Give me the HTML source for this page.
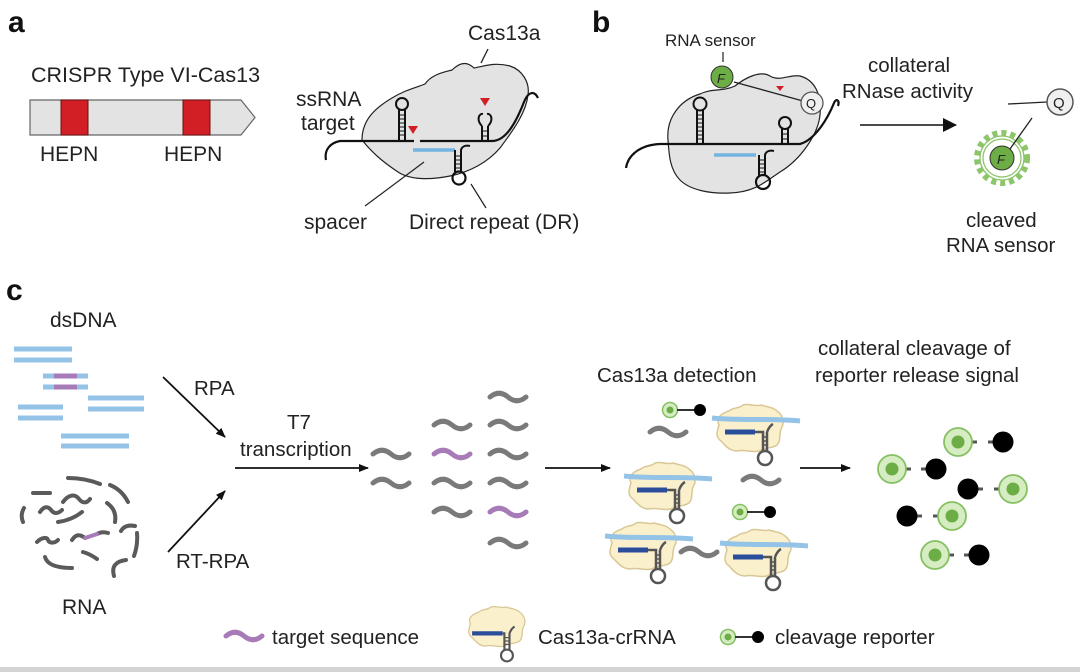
<!DOCTYPE html>
<html><head><meta charset="utf-8"><style>
html,body{margin:0;padding:0;background:#fff;}
svg{display:block;}
text{font-family:"Liberation Sans",Arial,sans-serif;fill:#222;}
</style></head><body>
<svg width="1080" height="672" viewBox="0 0 1080 672" xmlns="http://www.w3.org/2000/svg">
<defs>
<path id="sq" d="M0,0 c6,-5 12,-5 18,0 s12,5 18,0" fill="none" stroke-width="5" stroke-linecap="round"/>
<g id="cx">
  <path d="M4,20 C0,12 8,8 14,6 C18,2 24,4 28,0 C34,-2 40,2 46,0 C52,2 58,2 62,6 C68,10 70,18 66,24 C64,30 66,36 62,40 C56,44 50,42 44,46 C36,48 30,44 22,46 C14,46 10,40 6,36 C0,32 2,26 4,20 Z" fill="#faf0cc" stroke="#d9c796" stroke-width="1.5"/>
  <path d="M-3,13 C25,16 55,13 85,16" fill="none" stroke="#94c3e8" stroke-width="5"/>
  <line x1="10" y1="27" x2="40" y2="27" stroke="#2b4e9c" stroke-width="5"/>
  <path d="M40,27 H48 V46 M52,27 V46 M52,27 C54,22 56,20 58,19" fill="none" stroke="#555" stroke-width="2.5"/>
  <path d="M48,32 h4 M48,36 h4 M48,40 h4" stroke="#555" stroke-width="1.5"/>
  <circle cx="50" cy="53" r="7" fill="#fff" stroke="#555" stroke-width="2.5"/>
</g>
<g id="rep">
  <circle cx="0" cy="0" r="7.5" fill="#d6ecc2" stroke="#86c064" stroke-width="1.5"/>
  <circle cx="0" cy="0" r="3.5" fill="#6cae45"/>
  <line x1="7" y1="0" x2="26" y2="0" stroke="#333" stroke-width="2"/>
  <circle cx="30" cy="0" r="6" fill="#000"/>
</g>
<g id="big">
  <circle r="14" fill="#d6ecc2" stroke="#86c064" stroke-width="1.8"/>
  <circle r="6.5" fill="#6cae45"/>
</g>
<marker id="ah" markerWidth="10" markerHeight="8" refX="9" refY="4" orient="auto" markerUnits="userSpaceOnUse"><path d="M0,0 L10,4 L0,8 Z" fill="#111"/></marker>
<marker id="ah2" markerWidth="14" markerHeight="14" refX="13" refY="7" orient="auto" markerUnits="userSpaceOnUse"><path d="M0,0 L14,7 L0,14 Z" fill="#111"/></marker>
</defs>

<!-- panel letters -->
<text x="8" y="32" font-size="30" font-weight="bold" style="fill:#111">a</text>
<text x="592" y="32" font-size="30" font-weight="bold" style="fill:#111">b</text>
<text x="6" y="300" font-size="30" font-weight="bold" style="fill:#111">c</text>

<!-- panel a -->
<text x="31" y="82" font-size="21.5">CRISPR Type VI-Cas13</text>
<path d="M30,100 H241 L255,117.5 L241,135 H30 Z" fill="#e3e3e3" stroke="#666" stroke-width="1.2"/>
<rect x="61" y="100" width="27" height="35" fill="#d21f26" stroke="#6a1010" stroke-width="1"/>
<rect x="183" y="100" width="27" height="35" fill="#d21f26" stroke="#6a1010" stroke-width="1"/>
<text x="40" y="161" font-size="21">HEPN</text>
<text x="164" y="161" font-size="21">HEPN</text>

<text x="468" y="40" font-size="21">Cas13a</text>
<line x1="488" y1="49" x2="481" y2="63" stroke="#222" stroke-width="1.3"/>
<path d="M362,140 C362,120 375,108 392,98 C405,90 415,88 425,84 C432,74 445,72 452,70 C458,64 466,60 474,68 C485,66 495,62 510,66 C522,70 530,82 528,95 C526,112 515,128 500,148 C488,162 470,172 450,176 C430,180 410,180 398,172 C386,164 374,155 362,140 Z" fill="#e3e3e3" stroke="#222" stroke-width="1.2"/>
<text x="296" y="106" font-size="21">ssRNA</text>
<text x="301" y="130" font-size="21">target</text>
<path d="M326,160 C324,150 330,143 340,141 H414 M420,141 H492 C505,141 515,125 524,102 C528,92 534,90 538,98" fill="none" stroke="#111" stroke-width="2.2"/>
<path d="M399,141 V110 M405,141 V110" stroke="#111" stroke-width="2"/>
<path d="M399,115h6M399,119h6M399,123h6M399,127h6M399,131h6M399,135h6" stroke="#111" stroke-width="1"/>
<circle cx="402" cy="104" r="6" fill="none" stroke="#111" stroke-width="2"/>
<path d="M482,141 V126 M488,141 V126 M482,126 C476,120 479,113 483,114 M488,126 C494,120 491,113 487,114" fill="none" stroke="#111" stroke-width="2"/>
<path d="M482,131h6M482,136h6" stroke="#111" stroke-width="1"/>
<path d="M408,126 h10 l-5,8 Z" fill="#d21f26"/>
<path d="M480,98 h10 l-5,8 Z" fill="#d21f26"/>
<line x1="413" y1="150" x2="455" y2="150" stroke="#74b4e0" stroke-width="3.5"/>
<path d="M455,150 V172 M461,172 V150 C462,146 466,145 470,146" fill="none" stroke="#111" stroke-width="2"/>
<path d="M455,156h6M455,160h6M455,164h6M455,168h6" stroke="#111" stroke-width="1"/>
<circle cx="459" cy="178" r="6.5" fill="none" stroke="#111" stroke-width="2.2"/>
<line x1="424" y1="162" x2="365" y2="206" stroke="#222" stroke-width="1.2"/>
<line x1="471" y1="184" x2="486" y2="208" stroke="#222" stroke-width="1.2"/>
<text x="304" y="229" font-size="21">spacer</text>
<text x="409" y="229" font-size="21">Direct repeat (DR)</text>

<!-- panel b -->
<text x="665" y="46" font-size="17">RNA sensor</text>
<line x1="723" y1="52" x2="723" y2="62" stroke="#222" stroke-width="1.2"/>
<path d="M668,140 C666,118 680,100 700,94 C712,88 722,92 735,86 C745,78 760,70 770,76 C780,82 790,74 800,76 C815,80 822,95 820,115 C818,135 800,160 780,172 C765,182 755,192 730,193 C710,194 690,190 680,180 C670,170 669,155 668,140 Z" fill="#e3e3e3" stroke="#222" stroke-width="1.2"/>
<line x1="734" y1="82" x2="803" y2="101" stroke="#222" stroke-width="1.3"/>
<path d="M776,86 h8 l-4,5 Z" fill="#d21f26"/>
<circle cx="722" cy="77" r="11" fill="#6cae45" stroke="#333" stroke-width="1"/>
<text x="717" y="83" font-size="13" font-style="italic">F</text>
<circle cx="812" cy="103" r="11" fill="#f0f0f0" stroke="#555" stroke-width="1.3"/>
<text x="806" y="108" font-size="13">Q</text>
<path d="M626,168 C628,155 640,145 660,144 H800 C815,140 828,118 834,103 C836,98 840,100 838,106" fill="none" stroke="#111" stroke-width="2.2"/>
<path d="M697,144 V110 M703,144 V110" stroke="#111" stroke-width="2"/>
<path d="M697,115h6M697,119h6M697,123h6M697,127h6M697,131h6M697,135h6M697,139h6" stroke="#111" stroke-width="1"/>
<circle cx="700" cy="104" r="6.5" fill="none" stroke="#111" stroke-width="2"/>
<path d="M782,144 V129 M788,144 V129" stroke="#111" stroke-width="2"/>
<path d="M782,134h6M782,139h6" stroke="#111" stroke-width="1"/>
<circle cx="785" cy="123" r="6" fill="none" stroke="#111" stroke-width="2"/>
<line x1="714" y1="155" x2="756" y2="155" stroke="#74b4e0" stroke-width="3.5"/>
<path d="M759,155 V176 M765,176 V155 C766,151 770,150 774,151" fill="none" stroke="#111" stroke-width="2"/>
<path d="M759,160h6M759,164h6M759,168h6M759,172h6" stroke="#111" stroke-width="1"/>
<circle cx="763" cy="182" r="7" fill="none" stroke="#111" stroke-width="2.2"/>
<text x="868" y="72" font-size="20.5">collateral</text>
<text x="842" y="98" font-size="20.5">RNase activity</text>
<line x1="860" y1="125" x2="956" y2="125" stroke="#111" stroke-width="1.6" marker-end="url(#ah2)"/>
<line x1="1008" y1="104" x2="1047" y2="102" stroke="#222" stroke-width="1.3"/>
<circle cx="1060" cy="102" r="13" fill="#f0f0f0" stroke="#555" stroke-width="1.5"/>
<text x="1053" y="108" font-size="15">Q</text>
<circle cx="1002" cy="158" r="25" fill="none" stroke="#8cc56a" stroke-width="6" stroke-dasharray="5 4"/>
<circle cx="1002" cy="158" r="22" fill="#fff" stroke="#8cc56a" stroke-width="1.3"/>
<circle cx="1002" cy="158" r="19" fill="none" stroke="#8cc56a" stroke-width="1.3"/>
<circle cx="1002" cy="158" r="12" fill="#6cae45" stroke="#333" stroke-width="1"/>
<line x1="1032" y1="118" x2="1010" y2="149" stroke="#222" stroke-width="1.3"/>
<text x="997" y="164" font-size="13" font-style="italic">F</text>
<text x="966" y="227" font-size="20.5">cleaved</text>
<text x="946" y="252" font-size="20.5">RNA sensor</text>

<!-- panel c -->
<text x="50" y="327" font-size="21">dsDNA</text>
<g stroke="#94c3e8" stroke-width="5">
<line x1="14" y1="349" x2="72" y2="349"/><line x1="14" y1="360" x2="72" y2="360"/>
<line x1="43" y1="376" x2="88" y2="376"/><line x1="43" y1="387" x2="88" y2="387"/>
<line x1="88" y1="398" x2="144" y2="398"/><line x1="88" y1="409" x2="144" y2="409"/>
<line x1="18" y1="407" x2="63" y2="407"/><line x1="18" y1="418" x2="63" y2="418"/>
<line x1="61" y1="436" x2="129" y2="436"/><line x1="61" y1="446" x2="129" y2="446"/>
</g>
<g stroke="#a77bb8" stroke-width="5"><line x1="54" y1="376" x2="77" y2="376"/><line x1="54" y1="387" x2="77" y2="387"/></g>

<g fill="none" stroke="#5a5a5a" stroke-width="4" stroke-linecap="round">
<path d="M68,478 Q85,478 100,484"/>
<path d="M110,485 Q122,490 128,502"/>
<path d="M33,493 H50"/>
<path d="M40,512 c4,-6 8,-6 11,-2 s7,4 11,0"/>
<path d="M63,502 c6,-8 12,-8 16,-3 s8,4 11,0"/>
<path d="M24,508 Q20,515 23,522"/>
<path d="M58,522 Q72,520 82,512"/>
<path d="M107,503 Q117,510 115,522"/>
<path d="M37,542 c5,-5 10,-5 11,-2 s6,4 10,0"/>
<path d="M72,540 c4,-6 8,-6 13,-2 M97,534 Q102,531 108,533"/>
<path d="M135,526 Q125,524 121,531 M137,533 Q138,545 134,556"/>
<path d="M45,557 Q48,568 72,568"/>
<path d="M83,552 Q90,554 97,559"/>
<path d="M126,560 Q110,562 114,576"/>
</g>
<path d="M85,538 Q91,536 97,534" stroke="#a77bb8" stroke-width="4" fill="none" stroke-linecap="round"/>
<text x="62" y="614" font-size="21">RNA</text>

<line x1="163" y1="377" x2="225" y2="437" stroke="#111" stroke-width="1.8" marker-end="url(#ah)"/>
<line x1="168" y1="552" x2="225" y2="491" stroke="#111" stroke-width="1.8" marker-end="url(#ah)"/>
<text x="194" y="395" font-size="20.5">RPA</text>
<text x="176" y="568" font-size="20.5">RT-RPA</text>
<text x="287" y="429" font-size="20.5">T7</text>
<text x="240" y="456" font-size="20.5">transcription</text>
<line x1="235" y1="468" x2="368" y2="468" stroke="#111" stroke-width="1.8" marker-end="url(#ah)"/>

<g stroke="#7a7a7a">
<use href="#sq" x="373" y="454"/><use href="#sq" x="373" y="483"/>
<use href="#sq" x="434" y="425"/><use href="#sq" x="434" y="483"/><use href="#sq" x="434" y="512"/>
<use href="#sq" x="490" y="397"/><use href="#sq" x="490" y="425"/><use href="#sq" x="490" y="454"/><use href="#sq" x="490" y="483"/><use href="#sq" x="490" y="543"/>
<use href="#sq" x="650" y="432"/><use href="#sq" x="743" y="480"/><use href="#sq" x="681" y="552"/>
</g>
<g stroke="#a77bb8">
<use href="#sq" x="434" y="454"/><use href="#sq" x="490" y="512"/>
<use href="#sq" x="226" y="636"/>
</g>
<line x1="545" y1="468" x2="610" y2="468" stroke="#111" stroke-width="1.8" marker-end="url(#ah)"/>

<text x="597" y="382" font-size="20.5">Cas13a detection</text>
<text x="818" y="355" font-size="20.5">collateral cleavage of</text>
<text x="815" y="382" font-size="20.5">reporter release signal</text>

<use href="#cx" x="715" y="405"/>
<use href="#cx" x="627" y="463"/>
<use href="#cx" x="608" y="523"/>
<use href="#cx" x="723" y="530"/>
<use href="#rep" x="670" y="410"/>
<use href="#rep" x="740" y="512"/>

<line x1="800" y1="468" x2="850" y2="468" stroke="#111" stroke-width="1.8" marker-end="url(#ah)"/>

<g stroke="#555" stroke-width="3">
<line x1="972" y1="442" x2="977" y2="442"/><line x1="988" y1="442" x2="993" y2="442"/>
<line x1="906" y1="469" x2="911" y2="469"/><line x1="921" y1="469" x2="926" y2="469"/>
<line x1="978" y1="489" x2="983" y2="489"/><line x1="994" y1="489" x2="999" y2="489"/>
<line x1="917" y1="516" x2="922" y2="516"/><line x1="933" y1="516" x2="938" y2="516"/>
<line x1="949" y1="555" x2="954" y2="555"/><line x1="964" y1="555" x2="969" y2="555"/>
</g>
<use href="#big" x="958" y="442"/><circle cx="1003" cy="442" r="10.5" fill="#000"/>
<use href="#big" x="892" y="469"/><circle cx="936" cy="469" r="10.5" fill="#000"/>
<circle cx="968" cy="489" r="10.5" fill="#000"/><use href="#big" x="1013" y="489"/>
<circle cx="907" cy="516" r="10.5" fill="#000"/><use href="#big" x="952" y="516"/>
<use href="#big" x="935" y="555"/><circle cx="979" cy="555" r="10.5" fill="#000"/>

<!-- legend -->
<text x="272" y="644" font-size="20.5">target sequence</text>
<g transform="translate(467,607) scale(0.85)">
  <path d="M4,20 C0,12 8,8 14,6 C18,2 24,4 28,0 C34,-2 40,2 46,0 C52,2 58,2 62,6 C68,10 70,18 66,24 C64,30 66,36 62,40 C56,44 50,42 44,46 C36,48 30,44 22,46 C14,46 10,40 6,36 C0,32 2,26 4,20 Z" fill="#faf0cc" stroke="#d9c796" stroke-width="1.5"/>
  <line x1="6" y1="31" x2="42" y2="31" stroke="#2b4e9c" stroke-width="5"/>
  <path d="M42,31 H44 V50 M50,50 V31 C52,26 54,24 56,23" fill="none" stroke="#555" stroke-width="2.5"/>
  <path d="M44,36 h6 M44,40 h6 M44,44 h6" stroke="#555" stroke-width="1.5"/>
  <circle cx="47" cy="57" r="7" fill="#fff" stroke="#555" stroke-width="2.5"/>
</g>
<text x="538" y="644" font-size="20.5">Cas13a-crRNA</text>
<use href="#rep" x="728" y="637"/>
<text x="775" y="644" font-size="20.5">cleavage reporter</text>

<rect x="0" y="667" width="1080" height="5" fill="#d4d4d4"/>
</svg>
</body></html>
